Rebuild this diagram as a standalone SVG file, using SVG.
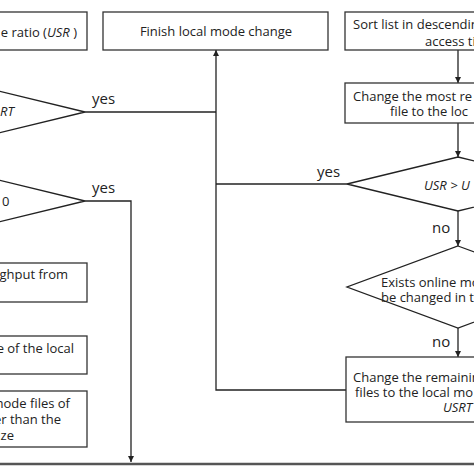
<svg xmlns="http://www.w3.org/2000/svg" width="474" height="474" viewBox="0 0 474 474">
<defs>
<marker id="ah" viewBox="0 0 10 10" refX="10" refY="5" markerWidth="6" markerHeight="6" markerUnits="userSpaceOnUse" orient="auto">
<path d="M0,0 L10,5 L0,10 z" fill="#222"/>
</marker>
<style>
.box{fill:#fff;stroke:#333;stroke-width:1.3}
.dia{fill:#fff;stroke:#222;stroke-width:1.3}
.t{font-family:"Open Sans","Noto Sans",sans-serif;font-size:13px;fill:#222}
.i{font-style:italic}
.lbl{font-family:"Open Sans","Noto Sans",sans-serif;font-size:15px;fill:#222}
.c{fill:none;stroke:#222;stroke-width:1.3}
</style>
</defs>
<rect width="474" height="474" fill="#fff"/>
<g id="connectors">
<path class="c" d="M458,50 V83" marker-end="url(#ah)"/>
<path class="c" d="M458,123 V157" marker-end="url(#ah)"/>
<path class="c" d="M458,211 V246" marker-end="url(#ah)"/>
<path class="c" d="M458,328 V357" marker-end="url(#ah)"/>
<path class="c" d="M347,184 H216"/>
<path class="c" d="M346,390 H216 V50" marker-end="url(#ah)"/>
<path class="c" d="M85,112 H216"/>
<path class="c" d="M85,201 H131 V462" marker-end="url(#ah)"/>
<line x1="0" y1="464" x2="474" y2="464" stroke="#555" stroke-width="2.5"/>
<text class="lbl" x="92" y="104">yes</text>
<text class="lbl" x="92" y="193">yes</text>
<text class="lbl" x="317" y="177">yes</text>
<text class="lbl" x="432" y="233">no</text>
<text class="lbl" x="432" y="347">no</text>
</g>
<g id="n-usr">
<rect class="box" x="-10" y="12" width="97" height="38"/>
<text class="t" x="77" y="37" text-anchor="end">e ratio (<tspan class="i">USR</tspan> )</text>
</g>
<g id="n-finish">
<rect class="box" x="103" y="12" width="225" height="38"/>
<text class="t" x="216" y="36" text-anchor="middle">Finish local mode change</text>
</g>
<g id="n-sort">
<rect class="box" x="345" y="12" width="240" height="38"/>
<text class="t" x="353" y="29">Sort list in descendin</text>
<text class="t" x="425" y="46">access ti</text>
</g>
<g id="n-change-recent">
<rect class="box" x="345" y="83" width="240" height="40"/>
<text class="t" x="353" y="101">Change the most re</text>
<text class="t" x="390" y="116">file to the loc</text>
</g>
<g id="d-usr">
<polygon class="dia" points="458,157 569,184 458,211 347,184"/>
<text class="t i" x="424" y="190">USR &gt; U</text>
</g>
<g id="d-exists">
<polygon class="dia" points="458,246 569,287 458,328 347,287"/>
<text class="t" x="381" y="287">Exists online mo</text>
<text class="t" x="381" y="302">be changed in t</text>
</g>
<g id="n-change-remaining">
<rect class="box" x="346" y="357" width="240" height="65"/>
<text class="t" x="353" y="382">Change the remainin</text>
<text class="t" x="355" y="397">files to the local mo</text>
<text class="t i" x="443" y="412">USRT</text>
</g>
<g id="d-left1">
<polygon class="dia" points="-26,85 85,112 -26,139 -137,112"/>
<text class="t i" x="0" y="116">RT</text>
</g>
<g id="d-left2">
<polygon class="dia" points="-26,174 85,201 -26,228 -137,201"/>
<text class="t" x="2" y="206">0</text>
</g>
<g id="n-throughput">
<rect class="box" x="-10" y="263" width="97" height="39"/>
<text class="t" x="68" y="279" text-anchor="end">ghput from</text>
</g>
<g id="n-local">
<rect class="box" x="-10" y="336" width="97" height="38"/>
<text class="t" x="74" y="353" text-anchor="end">e of the local</text>
</g>
<g id="n-mode-files">
<rect class="box" x="-10" y="391" width="97" height="56"/>
<text class="t" x="70" y="408" text-anchor="end">mode files of</text>
<text class="t" x="61" y="424" text-anchor="end">er than the</text>
<text class="t" x="14" y="440" text-anchor="end">ize</text>
</g>
</svg>
